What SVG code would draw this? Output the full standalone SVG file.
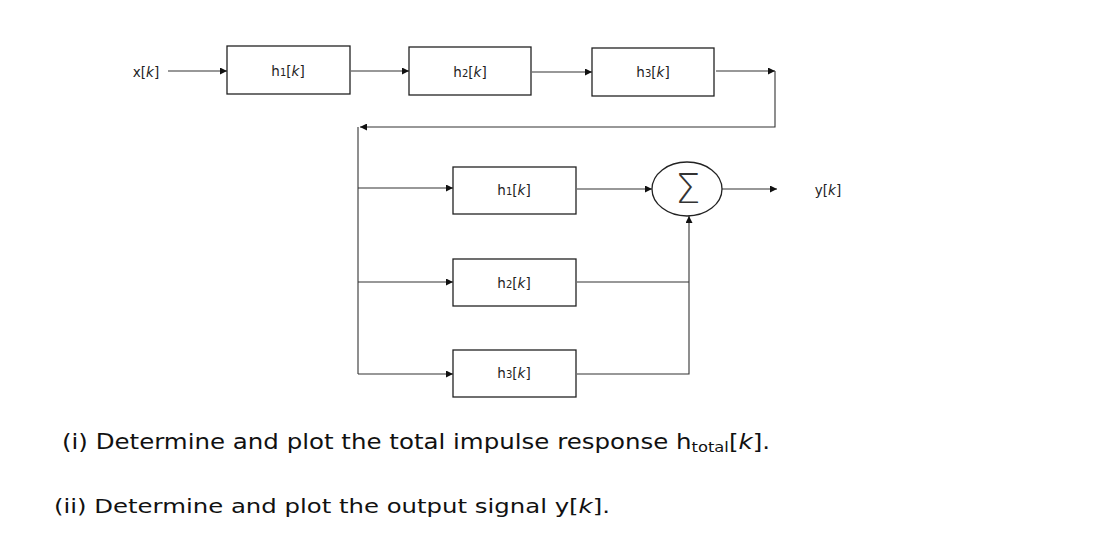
<svg xmlns="http://www.w3.org/2000/svg" width="1095" height="549" viewBox="0 0 1095 549">
<style>
.b{fill:#fff;stroke:#222;stroke-width:1.3}
.l{fill:none;stroke:#333;stroke-width:1.1}
.t{font-family:"DejaVu Sans",Verdana,sans-serif;font-size:13.5px;fill:#222;text-anchor:middle}
.q{font-family:"DejaVu Sans",Verdana,sans-serif;fill:#111}
</style>
<defs><marker id="a" viewBox="0 0 10 10" refX="10" refY="5" markerWidth="8" markerHeight="7" orient="auto" markerUnits="userSpaceOnUse"><path d="M0,0L10,5L0,10z" fill="#111"/></marker></defs>
<rect width="1095" height="549" fill="#fff"/>
<g id="connectors">
<path class="l" d="M168,71H227" marker-end="url(#a)"/>
<path class="l" d="M351,71H409" marker-end="url(#a)"/>
<path class="l" d="M532,72H592" marker-end="url(#a)"/>
<path class="l" d="M716,71H775" marker-end="url(#a)"/>
<path class="l" d="M775,71V127H360" marker-end="url(#a)"/>
<path class="l" d="M358,127V374"/>
<path class="l" d="M358,188H453" marker-end="url(#a)"/>
<path class="l" d="M358,282H453" marker-end="url(#a)"/>
<path class="l" d="M358,374H453" marker-end="url(#a)"/>
<path class="l" d="M577,189H652" marker-end="url(#a)"/>
<path class="l" d="M577,282H689"/>
<path class="l" d="M577,374H689V216" marker-end="url(#a)"/>
<path class="l" d="M722,189H777" marker-end="url(#a)"/>
</g>
<g id="x"><text class="t" x="146" y="77">x[<tspan font-style="italic">k</tspan>]</text></g>
<g id="h1a"><rect class="b" x="227" y="46" width="123" height="48"/><text class="t" x="288" y="76">h<tspan font-size="10">1</tspan>[<tspan font-style="italic">k</tspan>]</text></g>
<g id="h2a"><rect class="b" x="409" y="47" width="122" height="48"/><text class="t" x="470" y="77">h<tspan font-size="10">2</tspan>[<tspan font-style="italic">k</tspan>]</text></g>
<g id="h3a"><rect class="b" x="592" y="48" width="122" height="48"/><text class="t" x="653" y="77">h<tspan font-size="10">3</tspan>[<tspan font-style="italic">k</tspan>]</text></g>
<g id="h1b"><rect class="b" x="453" y="167" width="123" height="47"/><text class="t" x="514" y="195">h<tspan font-size="10">1</tspan>[<tspan font-style="italic">k</tspan>]</text></g>
<g id="h2b"><rect class="b" x="453" y="259" width="123" height="47"/><text class="t" x="514" y="288">h<tspan font-size="10">2</tspan>[<tspan font-style="italic">k</tspan>]</text></g>
<g id="h3b"><rect class="b" x="453" y="350" width="123" height="47"/><text class="t" x="514" y="378">h<tspan font-size="10">3</tspan>[<tspan font-style="italic">k</tspan>]</text></g>
<g id="sum"><ellipse class="b" cx="687" cy="189" rx="35" ry="27"/><text x="688" y="203" font-family="DejaVu Sans,sans-serif" font-size="40" font-weight="200" fill="#333" text-anchor="middle">Σ</text></g>
<g id="y"><text class="t" x="828" y="195">y[<tspan font-style="italic">k</tspan>]</text></g>
<text class="q" x="62" y="449" font-size="21" textLength="708" lengthAdjust="spacingAndGlyphs">(i) Determine and plot the total impulse response h<tspan font-size="14" dy="3">total</tspan><tspan dy="-3">[</tspan><tspan font-style="italic">k</tspan>].</text>
<text class="q" x="54" y="513" font-size="19" textLength="556" lengthAdjust="spacingAndGlyphs">(ii) Determine and plot the output signal y[<tspan font-style="italic">k</tspan>].</text>
</svg>
